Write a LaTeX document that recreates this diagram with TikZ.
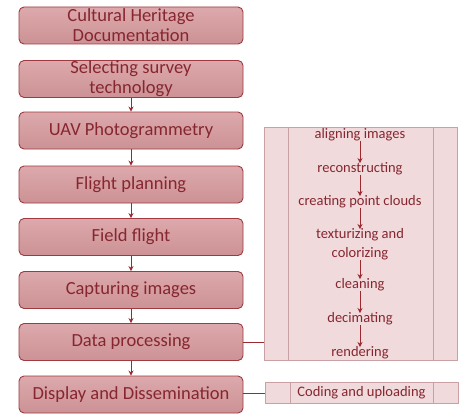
\documentclass[tikz,border=0pt]{standalone}
\usepackage{fontspec}
\setmainfont{Carlito}
\usetikzlibrary{arrows.meta}
\definecolor{boxtop}{HTML}{DDA9AC}
\definecolor{boxbot}{HTML}{CC9295}
\definecolor{boxline}{HTML}{9E3A40}
\definecolor{txt}{HTML}{862630}
\definecolor{panelfill}{HTML}{F1DADC}
\definecolor{panelline}{HTML}{C9A0A3}
\definecolor{arr}{HTML}{9A2A30}
\tikzset{
  stepbox/.style={draw=boxline, line width=0.9pt, rounded corners=5pt,
    top color=boxtop, bottom color=boxbot, minimum width=224pt, minimum height=37pt,
    inner sep=0pt, align=center, text=txt, font=\fontsize{18.5}{20}\selectfont},
  sub/.style={text=txt, font=\fontsize{14.5}{19}\selectfont, align=center, inner sep=0pt},
  flow/.style={draw=arr, line width=0.8pt, -{Stealth[length=5pt,width=5pt]}},
  link/.style={draw=arr, line width=0.9pt},
}
\begin{document}
\begin{tikzpicture}[x=1pt,y=-1pt]
\useasboundingbox (0,0) rectangle (474,420);
\fill[white] (0,0) rectangle (474,420);
\node[stepbox] (b1) at (131,25.5) {Cultural Heritage\\Documentation};
\node[stepbox] (b2) at (131,79) {Selecting survey\\technology};
\node[stepbox] (b3) at (131,130.5) {UAV Photogrammetry};
\node[stepbox] (b4) at (131,184.5) {Flight planning};
\node[stepbox] (b5) at (131,237) {Field flight};
\node[stepbox] (b6) at (131,290) {Capturing images};
\node[stepbox] (b7) at (131,342) {Data processing};
\node[stepbox] (b8) at (131,394.5) {Display and Dissemination};
\foreach \a/\b in {b2/b3,b3/b4,b4/b5,b5/b6,b6/b7,b7/b8}
  \draw[flow] (\a.south) -- (\b.north);
% right panel
\draw[fill=panelfill, draw=panelline, line width=0.6pt] (264,127) rectangle (457,360);
\coordinate (pw) at (264,342);
\draw[panelline, line width=0.6pt] (288,127) -- (288,360) (433,127) -- (433,360);
\draw[fill=panelfill, draw=panelline, line width=0.6pt] (265,382) rectangle (458,403);
\coordinate (qw) at (265,393);
\draw[panelline, line width=0.6pt] (290,382) -- (290,403) (433,382) -- (433,403);
\node[sub] (s1) at (360,135) {aligning images};
\node[sub] (s2) at (360,169) {reconstructing};
\node[sub] (s3) at (360,202) {creating point clouds};
\node[sub] (s4) at (360,244.5) {texturizing and\\colorizing};
\node[sub] (s5) at (360,285) {cleaning};
\node[sub] (s6) at (360,319) {decimating};
\node[sub] (s7) at (360,353) {rendering};
\node[sub] (s8) at (361.5,393) {Coding and uploading};
\foreach \a/\b in {s1/s2,s2/s3,s3/s4,s4/s5,s5/s6,s6/s7}
  \draw[flow] ([yshift=0.5pt]\a.south) -- ([yshift=-0.5pt]\b.north);
\draw[link] (b7.east |- pw) -- (pw);
\draw[link] (b8.east |- qw) -- (qw);
\end{tikzpicture}
\end{document}
